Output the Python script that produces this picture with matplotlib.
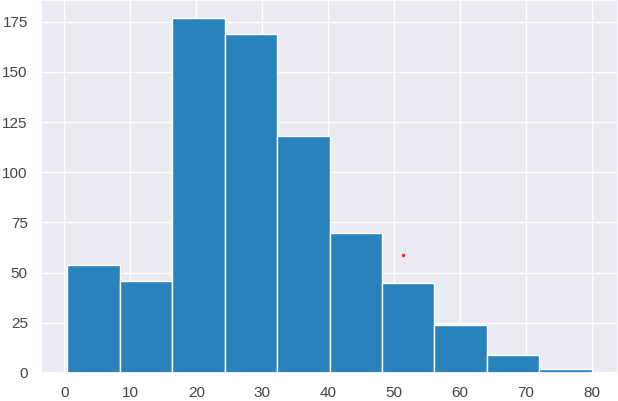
import numpy as np
import matplotlib
matplotlib.use("Agg")
import matplotlib.pyplot as plt
import seaborn as sns

# age histogram, 10 bins
bin_edges = [0.42, 8.378, 16.336, 24.294, 32.252, 40.21, 48.168, 56.126, 64.084, 72.042, 80.0]
counts = [54, 46, 177, 169, 118, 70, 45, 24, 9, 2]

# little red speck in the original
speck_x = [51.3]
speck_y = [59]

sns.set()
plt.rcParams['font.family'] = ['Liberation Sans', 'DejaVu Sans']
plt.rcParams['xtick.color'] = '#444444'
plt.rcParams['ytick.color'] = '#444444'

fig = plt.figure(figsize=(6.18, 4.01), dpi=100)
ax = fig.add_axes([41 / 618, 28 / 401, 1 - 41 / 618, 1 - 28 / 401])

centers = [(a + b) / 2 for a, b in zip(bin_edges[:-1], bin_edges[1:])]
ax.hist(centers, bins=bin_edges, weights=counts, color="#2a82bd", edgecolor="white", linewidth=1)
ax.plot(speck_x, speck_y, marker="o", markersize=1.4, color="#ff2020", linestyle="none", zorder=3)

ax.set_xticks(np.arange(0, 81, 10))
ax.set_yticks(np.arange(0, 176, 25))

fig.savefig("out.png", dpi=100)
